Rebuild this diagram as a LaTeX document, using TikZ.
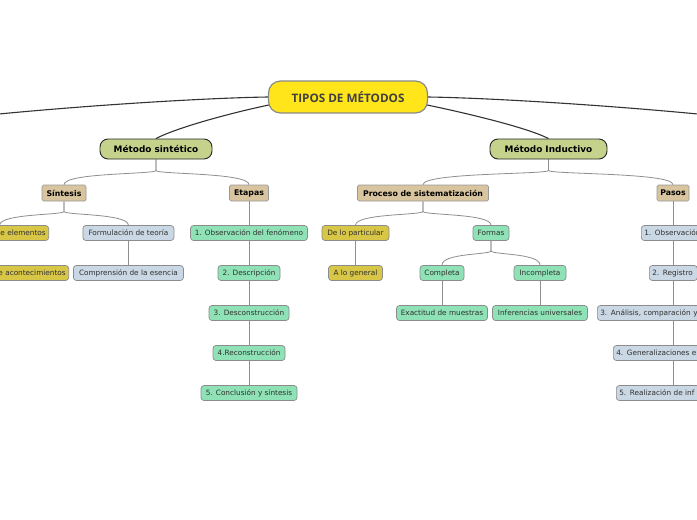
\documentclass[tikz,border=0pt]{standalone}
\usepackage{fontspec}
\setmainfont{DejaVu Sans}
\newfontfamily\titlefont{Open Sans}
\usetikzlibrary{calc,backgrounds}
\definecolor{titleyel}{HTML}{FFE51A}
\definecolor{titlebd}{HTML}{8A8A8A}
\definecolor{methfill}{HTML}{C4D28C}
\definecolor{headfill}{HTML}{D8C49E}
\definecolor{yelfill}{HTML}{D8C646}
\definecolor{blufill}{HTML}{C9D8E4}
\definecolor{grnfill}{HTML}{8FE2B5}
\definecolor{leafbd}{HTML}{8C8C8C}
\definecolor{leaftext}{HTML}{303030}
\definecolor{mainline}{HTML}{333333}
\definecolor{subline}{HTML}{8E8E8E}
\tikzset{
  titlebox/.style={draw=titlebd, line width=1.2pt, fill=titleyel, rounded corners=12pt,
    minimum height=32pt, inner sep=0pt, text=black!75, font=\titlefont\bfseries\fontsize{11.7}{13}\selectfont},
  methbox/.style={draw=black!85, line width=0.9pt, fill=methfill, rounded corners=8pt,
    minimum height=20pt, inner sep=0pt, font=\bfseries\fontsize{8.9}{10}\selectfont},
  headbox/.style={draw=black!40, line width=0.7pt, fill=headfill, rounded corners=1.5pt,
    minimum height=16pt, inner sep=0pt, font=\bfseries\fontsize{7.8}{9}\selectfont},
  leafbox/.style={draw=leafbd, line width=0.7pt, rounded corners=3pt,
    minimum height=15pt, inner ysep=0pt, inner xsep=3pt, text=leaftext, font=\fontsize{7.3}{8.5}\selectfont},
  yel/.style={leafbox, fill=yelfill},
  blu/.style={leafbox, fill=blufill},
  grn/.style={leafbox, fill=grnfill},
  mline/.style={draw=mainline, line width=1.1pt},
  sline/.style={draw=subline, line width=0.8pt},
}
\newcommand\mmconn[3]{%
  \draw[sline] let \p1=(#2.south), \p2=(#3.north) in
    (\p1) -- (\x1,\y1-#1) .. controls (\x1,\y1-#1-4pt) and (\x2,\y1-#1-2pt) .. (\p2);}
\begin{document}
\begin{tikzpicture}[x=1pt,y=-1pt]
\useasboundingbox (0,0) rectangle (697,520);
\clip (0,0) rectangle (697,520);

% central
\node[titlebox, minimum width=159pt] (title) at (348,97) {TIPOS DE MÉTODOS};
\node[methbox, minimum width=112pt] (ms) at (156,149) {Método sintético};
\node[methbox, minimum width=117pt] (mi) at (548.5,149) {Método Inductivo};
\coordinate (farL) at (-40,118);
\coordinate (farR) at (737,118);

% headers
\node[headbox, minimum width=44pt] (sin) at (64,193) {Síntesis};
\node[headbox, minimum width=39pt] (eta) at (249,193) {Etapas};
\node[headbox, minimum width=131pt] (pro) at (423,193) {Proceso de sistematización};
\node[headbox, minimum width=32pt] (pas) at (673,193) {Pasos};

% Sintesis
\node[yel, text width=92pt, align=right, anchor=east] (ele) at (49,233) {e elementos};
\node[yel, text width=132pt, align=right, anchor=east] (aco) at (69,273) {e acontecimientos};
\node[blu, minimum width=91pt] (for) at (128.4,233) {Formulación de teoría};
\node[blu, minimum width=110pt] (com) at (128.4,273) {Comprensión de la esencia};

% Etapas
\node[grn, minimum width=117pt] (o1) at (249,233) {1. Observación del fenómeno};
\node[grn, minimum width=62pt] (d2) at (249,273) {2. Descripción};
\node[grn, minimum width=80pt] (d3) at (249,313) {3. Desconstrucción};
\node[grn, minimum width=72pt] (r4) at (249,353) {4.Reconstrucción};
\node[grn, minimum width=96pt] (c5) at (249,393) {5. Conclusión y síntesis};

% Proceso
\node[yel, minimum width=67pt] (par) at (355.5,233) {De lo particular};
\node[yel, minimum width=54pt] (gen) at (355.5,273) {A lo general};
\node[grn, minimum width=36pt] (fms) at (491,233) {Formas};
\node[grn, minimum width=44pt] (cpl) at (442,273) {Completa};
\node[grn, minimum width=52pt] (inc) at (540,273) {Incompleta};
\node[grn, minimum width=91pt] (exa) at (442,313) {Exactitud de muestras};
\node[grn, minimum width=95pt] (inf) at (540,313) {Inferencias universales};

% Pasos
\node[blu, text width=58pt, align=left, anchor=west] (p1) at (641,233) {1. Observación};
\node[blu, text width=42pt, align=left, anchor=west] (p2) at (649,273) {2. Registro};
\node[blu, text width=146pt, align=left, anchor=west] (p3) at (597,313) {3. Análisis, comparación y};
\node[blu, text width=114pt, align=left, anchor=west] (p4) at (613,353) {4. Generalizaciones e};
\node[blu, text width=108pt, align=left, anchor=west] (p5) at (616,393) {5. Realización de inf};

\begin{scope}[on background layer]
\fill[white] (0,0) rectangle (697,520);
% main lines
\draw[mline] (title.west) .. controls (200,98) and (60,107) .. (farL);
\draw[mline] (title.east) .. controls (496,98) and (636,107) .. (farR);
\draw[mline] ($(title.west)+(1,8)$) .. controls (235,112) and (178,127) .. (ms.north);
\draw[mline] ($(title.east)+(-1,8)$) .. controls (461,112) and (526,127) .. (mi.north);
% sub connectors
\mmconn{11pt}{ms}{sin}
\mmconn{11pt}{ms}{eta}
\mmconn{11pt}{mi}{pro}
\mmconn{11pt}{mi}{pas}
\mmconn{10pt}{sin}{ele}
\mmconn{10pt}{sin}{for}
\mmconn{10pt}{pro}{par}
\mmconn{10pt}{pro}{fms}
\mmconn{10pt}{fms}{cpl}
\mmconn{10pt}{fms}{inc}
\draw[sline] (ele.south) -- (ele.south |- aco.north);
\draw[sline] (for.south) -- (for.south |- com.north);
\draw[sline] (eta.south) -- (eta.south |- c5.north);
\draw[sline] (par.south) -- (par.south |- gen.north);
\draw[sline] (cpl.south) -- (cpl.south |- exa.north);
\draw[sline] (inc.south) -- (inc.south |- inf.north);
\draw[sline] (pas.south) -- (pas.south |- p5.north);
\end{scope}
\end{tikzpicture}
\end{document}
